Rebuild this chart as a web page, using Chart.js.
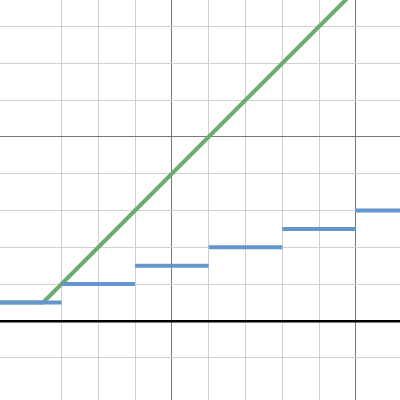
<!DOCTYPE html>
<html><head><script src="https://cdn.jsdelivr.net/npm/chart.js@4"></script>
<style>html,body{margin:0;padding:0;background:#fff}#w{width:400px;height:400px}</style></head>
<body><div id="w"><canvas id="c"></canvas></div>
<script>
const stepStarts=[0,2,4,6,8,10];
const stepLevels=[0.5,1,1.5,2,2.5,3];
const greenX=[-0.5,1.5,11];
const greenY=[0.5,0.5,10];
const blue=[];
stepStarts.forEach((s,i)=>{blue.push({x:s,y:stepLevels[i]});blue.push({x:s+2,y:stepLevels[i]});blue.push({x:s+2,y:null});});
const green=greenX.map((x,i)=>({x,y:greenY[i]}));
const intTicks=ax=>{ax.ticks=ax.ticks.filter(t=>Math.abs(t.value-Math.round(t.value))<1e-9);};
const gridCol=c=>{const v=c.tick.value;return v===0?'#000':(Math.round(v)%5===0?'#777':'#d0d0d0');};
new Chart(document.getElementById('c'),{type:'line',
data:{datasets:[
{data:blue,borderColor:'#6495cc',borderWidth:4,pointRadius:0,spanGaps:false,borderCapStyle:'butt'},
{data:green,borderColor:'#6aab6e',borderWidth:4,pointRadius:0}
]},
options:{animation:false,responsive:true,maintainAspectRatio:false,layout:{padding:0},
plugins:{legend:{display:false},tooltip:{enabled:false}},
scales:{
x:{type:'linear',min:0.33,max:11.2,ticks:{display:false,stepSize:1},border:{display:false},afterBuildTicks:intTicks,
 grid:{drawTicks:false,color:gridCol,lineWidth:c=>c.tick.value===0?2.5:1}},
y:{type:'linear',min:-2.15,max:8.72,ticks:{display:false,stepSize:1},border:{display:false},afterBuildTicks:intTicks,
 grid:{drawTicks:false,color:gridCol,lineWidth:c=>c.tick.value===0?2.5:1}}
}}});
</script></body></html>
